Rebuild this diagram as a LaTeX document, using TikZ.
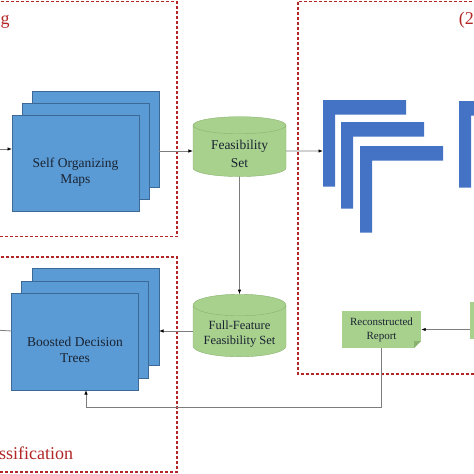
\documentclass[tikz,border=0pt]{standalone}
\usepackage{fontspec}
\setmainfont{Liberation Serif}
\usetikzlibrary{positioning}
\usetikzlibrary{calc}
\usetikzlibrary{arrows.meta}
\usetikzlibrary{shapes.geometric}
\definecolor{boxblue}{RGB}{91,155,213}
\definecolor{boxedge}{RGB}{60,105,150}
\definecolor{barblue}{RGB}{68,114,196}
\definecolor{setgreen}{RGB}{169,209,142}
\definecolor{setedge}{RGB}{138,178,112}
\definecolor{stagered}{RGB}{178,38,38}
\definecolor{wire}{RGB}{125,125,125}
\definecolor{inktext}{RGB}{25,35,50}
\newcommand{\lowered}[2]{\raisebox{-#1}[\height][\depth]{\begin{tabular}{@{}c@{}}#2\end{tabular}}}

\begin{document}
\begin{tikzpicture}[x=1pt, y=-1pt,
    every node/.style={font=\fontsize{13.5}{16.5}\selectfont, text=inktext},
    stackbox/.style={draw=boxedge, fill=boxblue, line width=0.8pt, minimum width=127pt,
        minimum height=96pt, inner sep=0pt, outer sep=0pt},
    boxtext/.style={align=center, inner sep=0pt},
    setcyl/.style={shape=cylinder, shape border rotate=90, aspect=0.3, draw=setedge,
        fill=setgreen, minimum width=93pt, minimum height=52pt, inner sep=0pt,
        outer sep=0pt, align=center},
    docbox/.style={fill=setgreen, minimum width=79pt, minimum height=37pt, inner sep=0pt,
        align=center, font=\fontsize{11}{14}\selectfont,
        path picture={
            \fill[white] ([xshift=-7pt]path picture bounding box.south east)
                -- (path picture bounding box.south east)
                -- ([yshift=7pt]path picture bounding box.south east) -- cycle;
            \fill[setedge] ([xshift=-7pt]path picture bounding box.south east)
                -- ([yshift=7pt]path picture bounding box.south east)
                -- ([xshift=-7pt,yshift=7pt]path picture bounding box.south east) -- cycle;
        }},
    stage/.style={draw=stagered, line width=1.3pt, dash pattern=on 3pt off 2pt},
    stagetitle/.style={font=\fontsize{18}{20}\selectfont, text=stagered, inner sep=0pt},
    wireline/.style={draw=wire, line width=0.8pt},
    arr/.style={wireline, -{Latex[length=4.5pt,width=3.5pt,color=black]}}
]
    \useasboundingbox (0,0) rectangle (474,474);

    % stage frames
    \draw[stage] (-10,1.5) rectangle (177,236.5);
    \draw[stage] (-10,257) rectangle (177,472);
    \draw[stage] (298,1.5) rectangle (490,374);
    \node[stagetitle, anchor=base west] (titleA) at (0.5,24) {g};
    \node[stagetitle, anchor=base east] (titleB) at (474,24) {(2};
    \node[stagetitle, anchor=base west] (titleC) at (-1,459) {ssification};

    % stacked boxes
    \foreach \i/\cx/\cy in {1/95.5/139, 2/85.5/151.5, 3/75.5/163} {
        \node[stackbox] (som\i) at (\cx,\cy) {};
    }
    \node[boxtext] (somtxt) at ([yshift=-9pt]som3.center) {Self Organizing\\Maps};

    \foreach \i/\cx/\cy in {1/95.5/317, 2/85/329.5, 3/75/341.5} {
        \node[stackbox, minimum height=97pt] (bdt\i) at (\cx,\cy) {};
    }
    \node[boxtext] (bdttxt) at ([yshift=-8.5pt]bdt3.center) {Boosted Decision\\Trees};

    % feature sets
    \node[setcyl] (feas) at (239.5,151) {\lowered{4pt}{Feasibility\\[1pt]Set}};
    \node[setcyl, font=\fontsize{12.5}{15}\selectfont] (ffs) at (239.5,331)
        {\lowered{2.5pt}{Full-Feature\\Feasibility Set}};

    % reports
    \node[docbox] (rep) at (381.5,329.5) {Reconstructed\\Report};
    \node[fill=setgreen, minimum width=60pt, minimum height=37pt, inner sep=0pt] (rawrep) at (500,320.5) {};

    % bars
    \foreach \bx/\by/\bw in {323/100/83, 341/122/83, 360/146/83, 459/101/120} {
        \fill[barblue] (\bx,\by) -- ++(\bw,0) -- ++(0,14.5) -- ++(12-\bw,0)
            -- ++(0,72) -- ++(-12,0) -- cycle;
    }
    \coordinate (bars) at (323,151);
    \coordinate (inl) at (-5,149);
    \coordinate (outl) at (-5,330);

    % connectors
    \draw[arr] (inl) -- (som3.west |- inl);
    \draw[arr] (som1.east |- feas.west) -- (feas.west);
    \draw[arr] (feas.east) -- (bars);
    \draw[arr] (feas.south) -- (ffs.north);
    \draw[arr] (ffs.west) -- (bdt1.east |- ffs.west);
    \draw[wireline] (bdt3.west |- ffs.west) -- (outl);
    \draw[arr] (rawrep.west |- rep.east) -- (rep.east);
    \draw[arr] (rep.south) -- ++(0,59) -| ([xshift=11pt]bdt3.south);
\end{tikzpicture}
\end{document}
